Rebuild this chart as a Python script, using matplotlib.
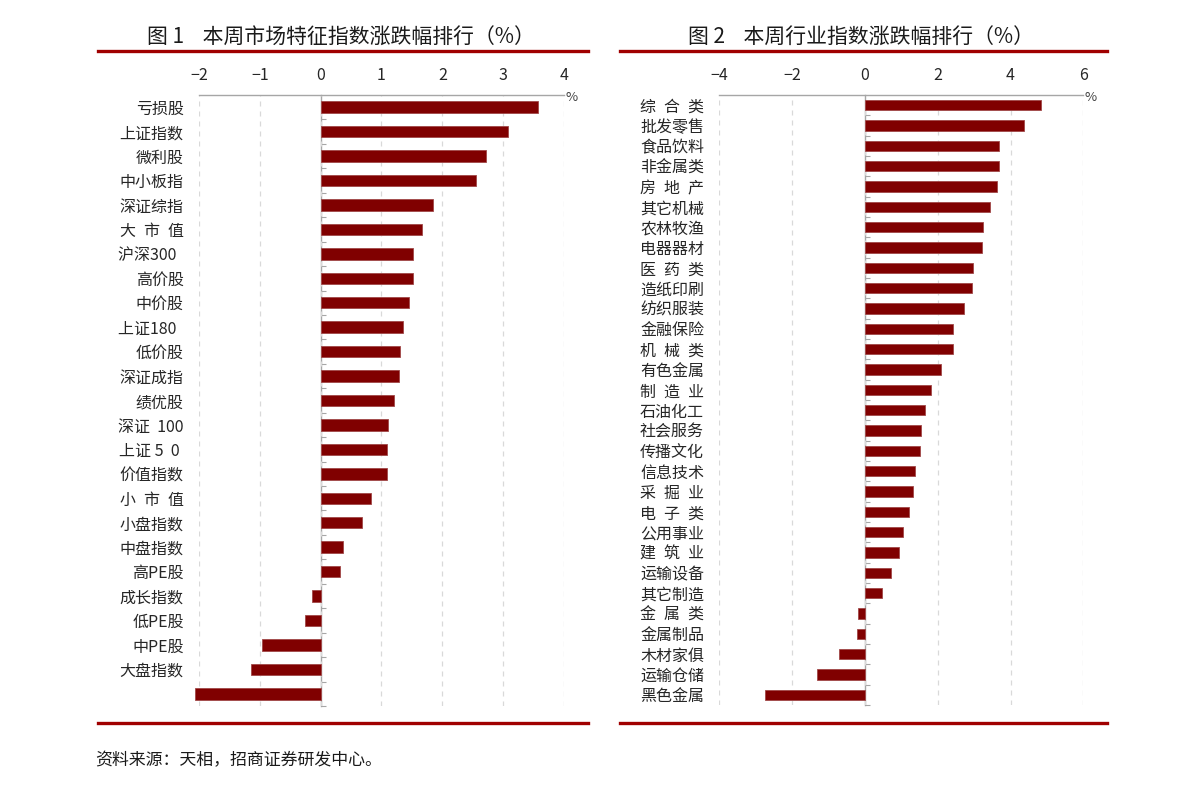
#!/usr/bin/env python3
# -*- coding: utf-8 -*-

import numpy as np
import matplotlib
matplotlib.use("Agg")
import matplotlib.pyplot as plt
from matplotlib.lines import Line2D

plt.rcParams['font.family'] = ['Noto Sans CJK SC', 'DejaVu Sans']
plt.rcParams['axes.unicode_minus'] = True

SP = "\u2002"  # půlčtverčíková mezera

# ====== DATA ======
market_labels = ["亏损股", "上证指数", "微利股", "中小板指", "深证综指", f"大{SP}市{SP}值",
                 "沪深300  ", "高价股", "中价股", "上证180  ", "低价股", "深证成指",
                 "绩优股", "深证  100", "上证 5  0 ", "价值指数", f"小{SP}市{SP}值", "小盘指数",
                 "中盘指数", "高PE股", "成长指数", "低PE股", "中PE股", "大盘指数", ""]
market_values = [3.58, 3.08, 2.72, 2.55, 1.84, 1.67, 1.52, 1.52, 1.45, 1.36, 1.31, 1.28,
                 1.21, 1.11, 1.09, 1.09, 0.82, 0.68, 0.37, 0.32, -0.15, -0.25, -0.97,
                 -1.14, -2.06]
market_ticks = [-2, -1, 0, 1, 2, 3, 4]

industry_labels = [f"综{SP}合{SP}类", "批发零售", "食品饮料", "非金属类", f"房{SP}地{SP}产", "其它机械",
                   "农林牧渔", "电器器材", f"医{SP}药{SP}类", "造纸印刷", "纺织服装", "金融保险",
                   f"机{SP}械{SP}类", "有色金属", f"制{SP}造{SP}业", "石油化工", "社会服务", "传播文化",
                   "信息技术", f"采{SP}掘{SP}业", f"电{SP}子{SP}类", "公用事业", f"建{SP}筑{SP}业", "运输设备",
                   "其它制造", f"金{SP}属{SP}类", "金属制品", "木材家俱", "运输仓储", "黑色金属"]
industry_values = [4.85, 4.37, 3.69, 3.69, 3.64, 3.44, 3.25, 3.21, 2.97, 2.93, 2.73, 2.41,
                   2.41, 2.09, 1.82, 1.65, 1.53, 1.50, 1.38, 1.33, 1.21, 1.05, 0.93, 0.73,
                   0.46, -0.18, -0.22, -0.70, -1.31, -2.74]
industry_ticks = [-4, -2, 0, 2, 4, 6]

titles = ["图 1    本周市场特征指数涨跌幅排行（%）", "图 2    本周行业指数涨跌幅排行（%）"]
source_text = "资料来源：天相，招商证券研发中心。"

# ====== STYLE ======
BAR_COLOR = "#800000"
LINE_RED = "#A00000"
GRID_GRAY = "#D9D9D9"
AXIS_GRAY = "#A6A6A6"
TEXT_COLOR = "#262626"

W, H = 1190, 790


def draw_panel(ax, labels, values, ticks, bar_h):
    n = len(labels)
    y = np.arange(n)
    ax.barh(y, values, height=bar_h, color=BAR_COLOR, edgecolor="#A04848",
            linewidth=0.6, zorder=3, clip_on=False)

    ax.set_xlim(ticks[0], ticks[-1])
    ax.set_ylim(n - 0.5, -0.5)

    # osa x nahoře
    ax.xaxis.tick_top()
    ax.set_xticks(ticks)
    ax.tick_params(axis="x", length=0, pad=8, labelsize=11.5, labelcolor=TEXT_COLOR)

    ax.set_yticks(y)
    ax.set_yticklabels(labels)
    ax.tick_params(axis="y", length=0, pad=11, labelsize=11.5, labelcolor=TEXT_COLOR)

    ax.set_axisbelow(True)
    ax.grid(True, axis="x", color=GRID_GRAY, linestyle=(0, (4, 4)), linewidth=0.9)

    for side in ["left", "right", "bottom"]:
        ax.spines[side].set_visible(False)
    ax.spines["top"].set_color(AXIS_GRAY)
    ax.spines["top"].set_linewidth(1.0)

    # nulová osa s čárkami mezi kategoriemi
    zero_pos = (0 - ticks[0]) / (ticks[-1] - ticks[0])
    sec = ax.secondary_yaxis(zero_pos)
    sec.set_yticks(y + 0.5)
    sec.tick_params(axis="y", direction="in", length=3.5, color=AXIS_GRAY,
                    labelleft=False, labelright=False)
    for sp in sec.spines.values():
        sp.set_color(AXIS_GRAY)
        sp.set_linewidth(1.0)

    ax.annotate("%", xy=(1, 1), xycoords="axes fraction", xytext=(1, -2),
                textcoords="offset points", ha="left", va="center",
                fontsize=9.5, color="#404040")


def main():
    fig = plt.figure(figsize=(W / 100, H / 100), dpi=100)

    ax1 = fig.add_axes([199 / W, 1 - 706 / H, 365 / W, 611 / H])
    draw_panel(ax1, market_labels, market_values, market_ticks, 0.47)

    ax2 = fig.add_axes([719.3 / W, 1 - 705 / H, 364 / W, 610 / H])
    draw_panel(ax2, industry_labels, industry_values, industry_ticks, 0.5)

    # titulky a červené linky
    panels = [(98, 588), (620, 1107)]
    for (x0, x1), title in zip(panels, titles):
        fig.text((x0 + x1) / 2 / W - 2 / W, 1 - 38 / H, title, ha="center", va="center",
                 fontsize=15, color="#1a1a1a")
        for yy in (51, 723):
            fig.add_artist(Line2D([x0 / W, x1 / W], [1 - yy / H] * 2,
                                  color=LINE_RED, linewidth=2.4))

    fig.text(95 / W, 1 - 760 / H, source_text, ha="left", va="center",
             fontsize=12.2, color="#1a1a1a")

    fig.savefig("out.png", dpi=100)
    plt.close(fig)


if __name__ == "__main__":
    main()
